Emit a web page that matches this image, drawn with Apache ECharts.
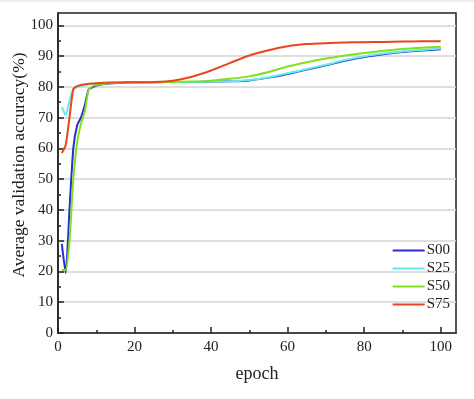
<!DOCTYPE html>
<html>
<head>
<meta charset="utf-8">
<script src="https://cdn.jsdelivr.net/npm/echarts@6/dist/echarts.min.js"></script>
<style>
  html, body { margin: 0; padding: 0; background: #fff; }
  #chart { width: 474px; height: 399px; }
</style>
</head>
<body>
<div id="chart"></div>
<script>
const epochs = [1, 2, 3, 4, 5, 6, 7, 8, 9, 10, 12, 14, 16, 18, 20, 25, 30, 35, 40, 45, 50, 55, 60, 65, 70, 75, 80, 85, 90, 95, 100]

const s00 = [29, 19.5, 40, 60, 67.5, 70, 74, 79.2, 79.8, 80.4, 80.9, 81.2, 81.3, 81.4, 81.5, 81.5, 81.6, 81.6, 81.7, 81.8, 82.1, 83.0, 84.2, 85.6, 87.0, 88.5, 89.7, 90.6, 91.3, 91.8, 92.2]
const s25 = [73.5, 70.8, 75.5, 79.1, 79.9, 80.3, 80.6, 80.8, 81.0, 81.1, 81.2, 81.3, 81.4, 81.4, 81.5, 81.5, 81.6, 81.6, 81.7, 81.8, 82.2, 83.1, 84.4, 85.8, 87.2, 88.7, 89.9, 90.8, 91.5, 92.0, 92.5]
const s50 = [20.5, 20.5, 30, 50, 62, 68, 72, 79, 80.2, 80.6, 81, 81.2, 81.3, 81.4, 81.5, 81.5, 81.6, 81.7, 82.0, 82.6, 83.4, 84.8, 86.6, 88.0, 89.2, 90.2, 91.0, 91.7, 92.3, 92.7, 93.0]
const s75 = [58.5, 61, 70, 79.3, 80.2, 80.6, 80.8, 81.0, 81.1, 81.2, 81.3, 81.4, 81.4, 81.5, 81.5, 81.6, 82.0, 83.3, 85.3, 87.8, 90.2, 91.9, 93.2, 93.9, 94.2, 94.4, 94.5, 94.6, 94.7, 94.8, 94.8]

const seriesNames = ['S00', 'S25', 'S50', 'S75']
const seriesColors = ['#2a2ad6', '#62ecec', '#7fe21c', '#e8461f']
const seriesValues = [s00, s25, s50, s75]

const xMajorTicks = [0, 20, 40, 60, 80, 100]
const xMinorTicks = [10, 30, 50, 70, 90]
const yMajorTicks = [0, 10, 20, 30, 40, 50, 60, 70, 80, 90, 100]
const yMinorTicks = [5, 15, 25, 35, 45, 55, 65, 75, 85, 95]

const font = '"Liberation Serif", "Times New Roman", serif'
const ink = '#222'

const chart = echarts.init(document.getElementById('chart'))

const labelStyle = { fontFamily: font, fontSize: 15, color: ink }

chart.setOption({
  backgroundColor: '#fff',
  animation: false,
  graphic: [{
    type: 'rect',
    shape: { x: 0, y: 0, width: 474, height: 2 },
    style: { fill: '#ececec' }
  }],
  grid: {
    left: 58, right: 18, top: 13, bottom: 66,
    outerBoundsMode: 'none',
    containLabel: false,
    show: true, borderColor: ink, borderWidth: 1.5
  },
  legend: {
    orient: 'vertical',
    right: 19,
    top: 238,
    icon: 'rect',
    itemWidth: 32,
    itemHeight: 2,
    itemGap: 3,
    textStyle: { fontFamily: font, fontSize: 15, lineHeight: 14, color: ink, padding: [0, 0, 0, -3] },
    data: seriesNames
  },
  xAxis: [{
    type: 'value',
    min: 0, max: 104, interval: 20,
    name: 'epoch',
    nameLocation: 'middle',
    nameGap: 32,
    nameTextStyle: { fontFamily: font, fontSize: 18, color: ink },
    axisLine: { lineStyle: { color: ink, width: 1.5 } },
    axisTick: { inside: true, length: 6, customValues: xMajorTicks, lineStyle: { color: ink, width: 1.5 } },
    axisLabel: { ...labelStyle, margin: 7, customValues: xMajorTicks },
    splitLine: { show: false }
  }, {
    type: 'value',
    min: 0, max: 104,
    position: 'bottom',
    axisLine: { show: false },
    axisTick: { inside: true, length: 3, customValues: xMinorTicks, lineStyle: { color: ink, width: 1.5 } },
    axisLabel: { show: false },
    splitLine: { show: false }
  }],
  yAxis: [{
    type: 'value',
    min: 0, max: 104, interval: 10,
    name: 'Average validation accuracy(%)',
    nameLocation: 'middle',
    nameGap: 30,
    nameMoveOverlap: false,
    nameTextStyle: { fontFamily: font, fontSize: 17.5, color: ink, padding: [0, 0, 0, 16] },
    axisLine: { show: true, lineStyle: { color: ink, width: 1.5 } },
    axisTick: { show: true, inside: true, length: 6, customValues: yMajorTicks, lineStyle: { color: ink, width: 1.5 } },
    axisLabel: { ...labelStyle, margin: 5, customValues: yMajorTicks },
    splitLine: { show: true, lineStyle: { color: '#d4d4d4', width: 1.5 } }
  }, {
    type: 'value',
    min: 0, max: 104,
    position: 'left',
    axisLine: { show: false },
    axisTick: { show: true, inside: true, length: 3, customValues: yMinorTicks, lineStyle: { color: ink, width: 1.5 } },
    axisLabel: { show: false },
    splitLine: { show: false }
  }],
  series: seriesNames.map((name, i) => ({
    name,
    type: 'line',
    xAxisIndex: 0,
    yAxisIndex: 0,
    symbol: 'none',
    smooth: 0.2,
    lineStyle: { width: 2, color: seriesColors[i] },
    itemStyle: { color: seriesColors[i] },
    data: epochs.map((e, j) => [e, seriesValues[i][j]])
  }))
})
</script>
</body>
</html>
